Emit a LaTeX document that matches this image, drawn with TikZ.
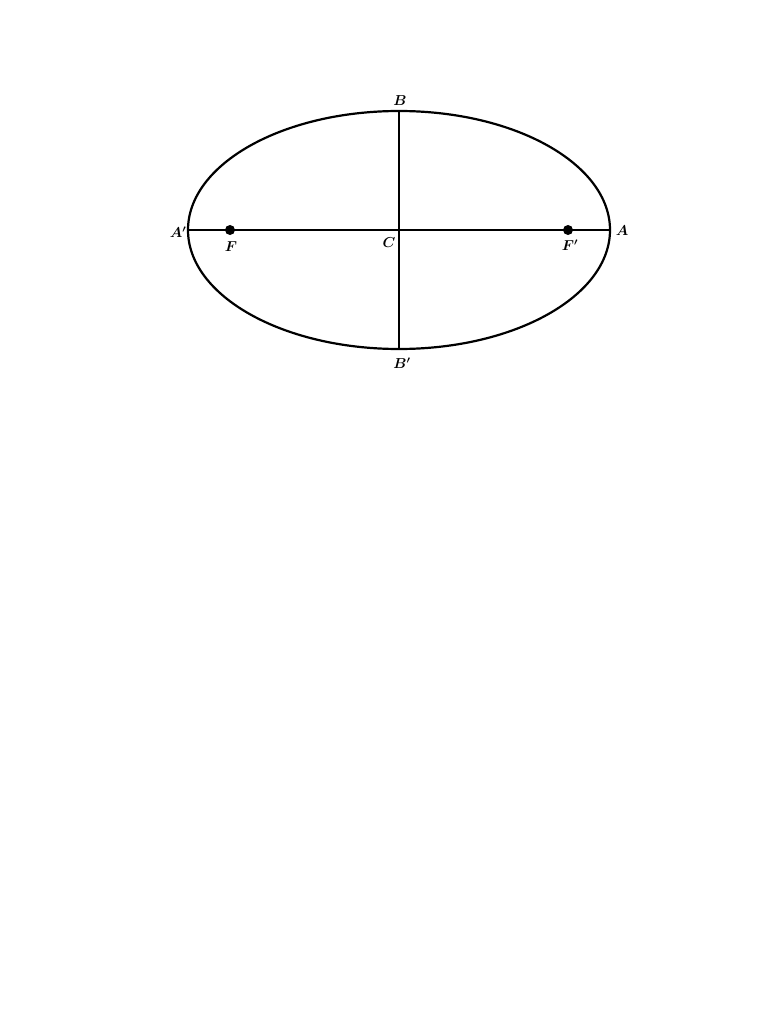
\documentclass[tikz,border=0pt]{standalone}
\usepackage{amsmath,bm}
\begin{document}
\begin{tikzpicture}[x=1pt,y=-1pt,
  lbl/.style={inner sep=0pt,font=\fontsize{14}{16}\selectfont},
  focus/.style={circle,fill=black,inner sep=0pt,minimum size=10pt},
  axis/.style={line width=1.4pt},
  curve/.style={line width=2.2pt}]
\useasboundingbox (0,0) rectangle (768,1024);
\coordinate (C) at (399,230);
\coordinate (A) at (610,230);
\coordinate (Ap) at (188,230);
\coordinate (B) at (399,111);
\coordinate (Bp) at (399,349);
\draw[curve] (C) ellipse [x radius=211, y radius=119];
\draw[axis] (Ap) -- (A);
\draw[axis] (B) -- (Bp);
\node[focus] (F) at (230,230) {};
\node[focus] (Fp) at (568,230) {};
\node[lbl] (lB) at (400,101) {$\bm{B}$};
\node[lbl] (lBp) at (402,363) {$\bm{B'}$};
\node[lbl] (lAp) at (178,232) {$\bm{A'}$};
\node[lbl] (lA) at (622,231) {$\bm{A}$};
\node[lbl] (lF) at (231,247) {$\bm{F}$};
\node[lbl] (lFp) at (570,245) {$\bm{F'}$};
\node[lbl] (lC) at (389,243) {$\bm{C}$};
\end{tikzpicture}
\end{document}
